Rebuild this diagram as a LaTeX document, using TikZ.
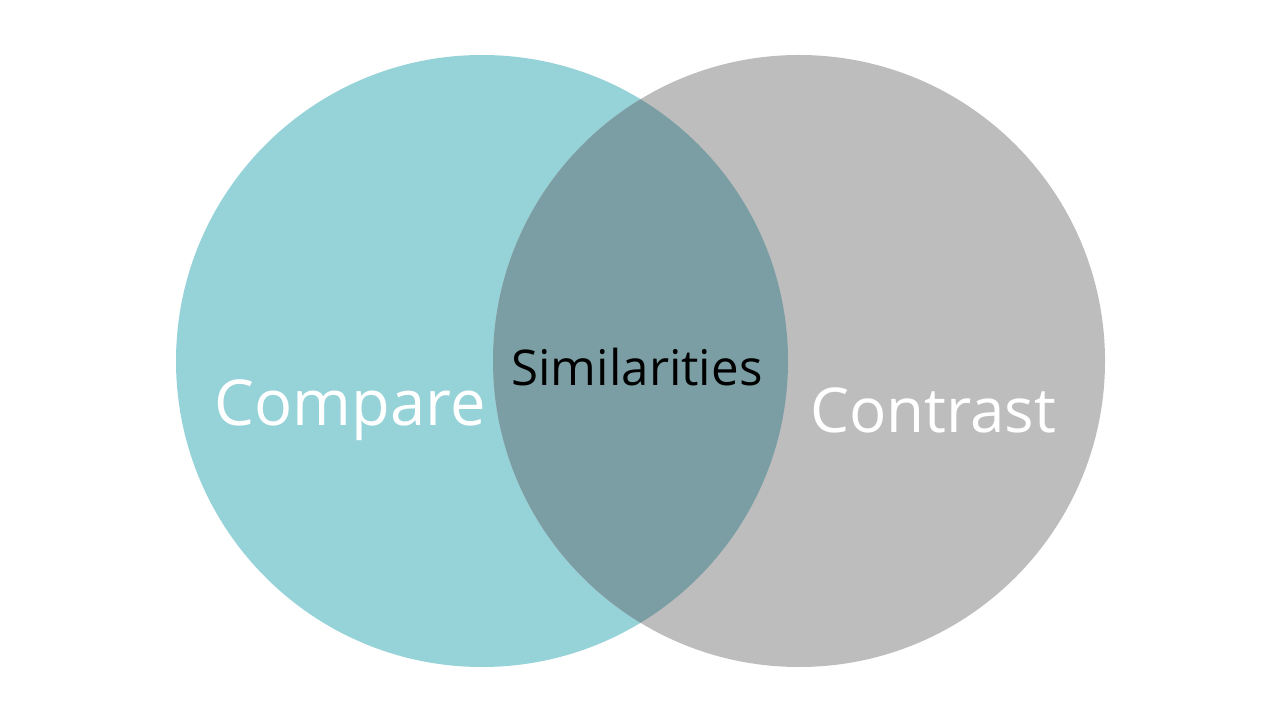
\documentclass[tikz,border=0pt]{standalone}
\usepackage{fontspec}
\setmainfont{Open Sans}
\definecolor{lc}{HTML}{96D3D9}
\definecolor{rc}{HTML}{BDBDBD}
\definecolor{ic}{HTML}{7B9EA4}
\begin{document}
\begin{tikzpicture}[x=0.025cm,y=-0.025cm]
\useasboundingbox (0,0) rectangle (1280,720);
\fill[lc] (482,361) circle[radius=306];
\fill[rc] (799,361) circle[radius=306];
\begin{scope}
\clip (482,361) circle[radius=306];
\fill[ic] (799,361) circle[radius=306];
\end{scope}
\node[text=white,font=\fontsize{45}{50}\selectfont] (cmp) at (350,410) {Compare};
\node[text=white,font=\fontsize{44}{50}\selectfont] (ctr) at (933,410) {Contrast};
\node[text=black,font=\fontsize{35}{40}\selectfont] (sim) at (637,367) {Similarities};
\end{tikzpicture}
\end{document}
